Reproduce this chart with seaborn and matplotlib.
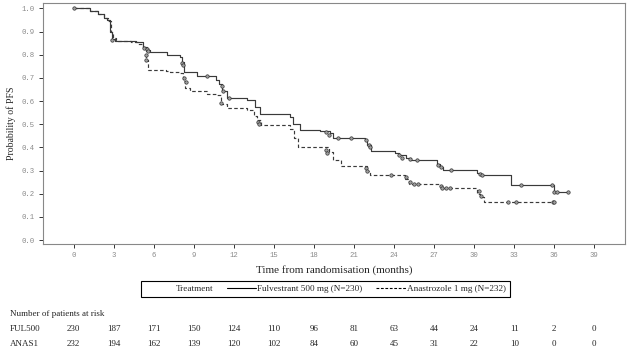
import pandas as pd
import seaborn as sns
import matplotlib.pyplot as plt
from matplotlib.lines import Line2D
from matplotlib.transforms import blended_transform_factory

# Kaplan-Meier steps (months, probability)
ful_time = [0, 1.2, 1.8, 2.3, 2.5, 2.7, 2.85, 3.1, 4.7, 5.2, 5.5, 5.7, 7.0, 7.95, 8.1, 8.3, 9.2,
            10.65, 10.9, 11.1, 11.5, 12.95, 13.6, 13.95, 16.2, 16.45, 16.95, 18.45, 19.2, 19.45,
            21.8, 22.0, 22.3, 24.1, 24.4, 24.9, 25.3, 27.2, 27.45, 27.7, 30.2, 30.5, 32.75,
            35.9, 36.0, 36.95]
ful_surv = [1.0, 0.99, 0.975, 0.96, 0.948, 0.90, 0.869, 0.86, 0.855, 0.835, 0.82, 0.81, 0.797, 0.789,
            0.767, 0.724, 0.706, 0.69, 0.674, 0.645, 0.613, 0.606, 0.575, 0.545, 0.53, 0.50,
            0.475, 0.47, 0.461, 0.44, 0.43, 0.41, 0.385, 0.375, 0.365, 0.352, 0.345, 0.33,
            0.315, 0.302, 0.29, 0.281, 0.238, 0.238, 0.209, 0.209]

ana_time = [0, 1.2, 1.8, 2.3, 2.6, 2.8, 2.95, 3.2, 4.3, 4.8, 5.2, 5.4, 5.6, 6.95, 7.2, 7.95, 8.2,
            8.35, 8.7, 10.0, 10.7, 11.0, 11.5, 13.0, 13.5, 13.7, 14.0, 15.7, 16.2, 16.5, 16.8,
            18.7, 19.1, 19.4, 20.0, 21.95, 22.2, 24.8, 25.1, 27.45, 27.7, 30.2, 30.45, 30.7, 36.05]
ana_surv = [1.0, 0.99, 0.975, 0.96, 0.945, 0.90, 0.87, 0.86, 0.855, 0.845, 0.832, 0.775, 0.734, 0.73,
            0.725, 0.72, 0.688, 0.655, 0.642, 0.629, 0.625, 0.587, 0.57, 0.56, 0.537, 0.52,
            0.498, 0.495, 0.48, 0.44, 0.403, 0.403, 0.378, 0.345, 0.32, 0.30, 0.281, 0.262,
            0.243, 0.235, 0.224, 0.20, 0.185, 0.166, 0.166]

# censored observations
ful_cens_t = [0, 2.9, 5.3, 5.5, 5.6, 8.1, 8.2, 10.0, 11.1, 11.2, 11.6, 18.9, 19.1, 19.8, 20.8,
              21.9, 22.1, 22.2, 24.4, 24.6, 25.2, 25.7, 27.3, 27.5, 28.3, 30.4, 30.6, 33.5,
              35.8, 35.95, 36.2, 37.0]
ful_cens_s = [1.0, 0.865, 0.83, 0.825, 0.815, 0.765, 0.755, 0.706, 0.665, 0.645, 0.613, 0.465,
              0.455, 0.44, 0.44, 0.43, 0.41, 0.40, 0.365, 0.355, 0.35, 0.345, 0.325, 0.315, 0.302,
              0.285, 0.281, 0.238, 0.238, 0.209, 0.209, 0.209]
ana_cens_t = [5.4, 5.45, 8.3, 8.4, 11.0, 13.8, 13.9, 18.9, 19.0, 21.9, 22.0, 23.75, 24.9, 25.2,
              25.5, 25.8, 27.5, 27.6, 27.9, 28.2, 30.35, 30.5, 32.5, 33.1, 35.9, 36.0]
ana_cens_s = [0.80, 0.775, 0.70, 0.68, 0.59, 0.51, 0.50, 0.39, 0.375, 0.31, 0.30, 0.281, 0.27,
              0.25, 0.243, 0.243, 0.235, 0.226, 0.224, 0.224, 0.21, 0.19, 0.166, 0.166, 0.166, 0.166]

arms = ['Fulvestrant 500 mg (N=230)', 'Anastrozole 1 mg (N=232)']
risk_months = list(range(0, 40, 3))
risk_ful = [230, 187, 171, 150, 124, 110, 96, 81, 63, 44, 24, 11, 2, 0]
risk_ana = [232, 194, 162, 139, 120, 102, 84, 60, 45, 31, 22, 10, 0, 0]

steps = pd.concat([
    pd.DataFrame({'time': ful_time, 'surv': ful_surv, 'arm': arms[0]}),
    pd.DataFrame({'time': ana_time, 'surv': ana_surv, 'arm': arms[1]}),
])
cens = pd.concat([
    pd.DataFrame({'time': ful_cens_t, 'surv': ful_cens_s}),
    pd.DataFrame({'time': ana_cens_t, 'surv': ana_cens_s}),
])

sns.set_style('white')
plt.rcParams['font.family'] = ['Liberation Serif', 'DejaVu Serif']

line_col = '#3a3a3a'
fig = plt.figure(figsize=(6.3, 3.6), dpi=100)
ax = fig.add_axes([43 / 630, 1 - 244 / 360, 582 / 630, 241 / 360])

sns.lineplot(data=steps, x='time', y='surv', style='arm', style_order=arms,
             dashes={arms[0]: '', arms[1]: (3, 2)}, color=line_col, linewidth=0.85,
             drawstyle='steps-post', estimator=None, sort=False, legend=False, ax=ax)
sns.scatterplot(data=cens, x='time', y='surv', marker='o', s=6, color='#a0a0a0',
                edgecolor='#333333', linewidth=0.5, legend=False, ax=ax, zorder=3)

ax.set_xlim(-2.3, 41.3)
ax.set_ylim(-0.017, 1.023)
ax.set_xticks(risk_months)
ax.set_yticks([i / 10 for i in range(11)])
ax.set_yticklabels([f'{i / 10:.1f}' for i in range(11)])
ax.tick_params(axis='both', direction='out', length=3, width=0.7, color='#333333',
               labelsize=5.2, labelcolor='#8a8a8a', pad=3, left=True, bottom=True)
for lab in ax.get_xticklabels() + ax.get_yticklabels():
    lab.set_family('Liberation Mono')
for sp in ax.spines.values():
    sp.set_color('#888888')
    sp.set_linewidth(0.8)

ax.set_xlabel('Time from randomisation (months)', fontsize=8, labelpad=4)
ax.set_ylabel('Probability of PFS', fontsize=7, labelpad=4)

handles = [Line2D([], [], color='none'),
           Line2D([], [], color='black', lw=0.8),
           Line2D([], [], color='black', lw=0.8, ls=(0, (2.5, 1.5)))]
fig.legend(handles, ['Treatment'] + arms, ncol=3, loc='center', bbox_to_anchor=(0.5167, 0.197),
           fontsize=6.6, frameon=True, fancybox=False, edgecolor='black', handlelength=3.2,
           handletextpad=0.1, columnspacing=1.5, borderpad=0.45, framealpha=1)
fig.legends[0].get_frame().set_linewidth(0.8)

tr = blended_transform_factory(ax.transData, fig.transFigure)
fig.text(10 / 630, 1 - 314 / 360, 'Number of patients at risk', fontsize=6.5, va='center')
fig.text(10 / 630, 1 - 329 / 360, 'FUL500', fontsize=6.5, va='center')
fig.text(10 / 630, 1 - 344 / 360, 'ANAS1', fontsize=6.5, va='center')
for m, a, b in zip(risk_months, risk_ful, risk_ana):
    ax.text(m, 1 - 329 / 360, str(a), transform=tr, fontsize=6.5, ha='center', va='center')
    ax.text(m, 1 - 344 / 360, str(b), transform=tr, fontsize=6.5, ha='center', va='center')

fig.savefig('out.png', dpi=100)
